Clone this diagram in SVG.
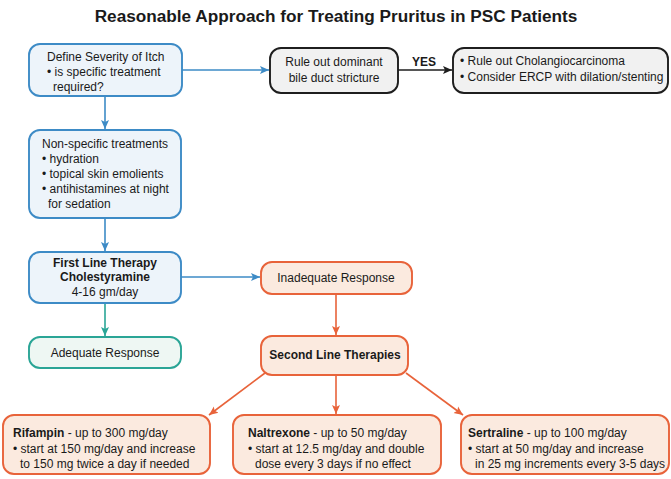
<svg xmlns="http://www.w3.org/2000/svg" width="671" height="479" viewBox="0 0 671 479">
<defs>
<style>
text{font-family:"Liberation Sans",Arial,sans-serif;font-size:12px;fill:#1a1a1a}
.title{font-size:17.2px;font-weight:bold;text-anchor:middle}
.b{font-weight:bold}
.c{text-anchor:middle}
.blue{fill:#edf4fa;stroke:#3d8bc6;stroke-width:1.9}
.grey{fill:#f1f1f1;stroke:#1e1e1e;stroke-width:1.9}
.teal{fill:#eef7f3;stroke:#2aa596;stroke-width:1.9}
.orng{fill:#fbeadf;stroke:#e8633a;stroke-width:1.9}
.lb{stroke:#3d8bc6;stroke-width:1.6;fill:none}
.lk{stroke:#1e1e1e;stroke-width:1.6;fill:none}
.lt{stroke:#2aa596;stroke-width:1.6;fill:none}
.lo{stroke:#e8633a;stroke-width:1.6;fill:none}
</style>
<marker id="ab" markerWidth="10" markerHeight="10" refX="9" refY="5" orient="auto" markerUnits="userSpaceOnUse"><path d="M0,1 L9,5 L0,9 L2,5 Z" fill="#3d8bc6"/></marker>
<marker id="ak" markerWidth="10" markerHeight="10" refX="9" refY="5" orient="auto" markerUnits="userSpaceOnUse"><path d="M0,1 L9,5 L0,9 L2,5 Z" fill="#1e1e1e"/></marker>
<marker id="at" markerWidth="10" markerHeight="10" refX="9" refY="5" orient="auto" markerUnits="userSpaceOnUse"><path d="M0,1 L9,5 L0,9 L2,5 Z" fill="#2aa596"/></marker>
<marker id="ao" markerWidth="10" markerHeight="10" refX="9" refY="5" orient="auto" markerUnits="userSpaceOnUse"><path d="M0,1 L9,5 L0,9 L2,5 Z" fill="#e8633a"/></marker>
</defs>
<rect width="671" height="479" fill="#ffffff"/>
<text class="title" x="336" y="22">Reasonable Approach for Treating Pruritus in PSC Patients</text>

<g id="connectors">
<path class="lb" d="M182,70 H269" marker-end="url(#ab)"/>
<path class="lk" d="M398,70 H452" marker-end="url(#ak)"/>
<text class="b c" x="424" y="66">YES</text>
<path class="lb" d="M105,96 V129" marker-end="url(#ab)"/>
<path class="lb" d="M105,218 V251" marker-end="url(#ab)"/>
<path class="lb" d="M181,277 H260" marker-end="url(#ab)"/>
<path class="lt" d="M105,303 V336" marker-end="url(#at)"/>
<path class="lo" d="M336,294 V335" marker-end="url(#ao)"/>
<path class="lo" d="M265,373 L209,415" marker-end="url(#ao)"/>
<path class="lo" d="M336,375 V414" marker-end="url(#ao)"/>
<path class="lo" d="M406,373 L463,415" marker-end="url(#ao)"/>
</g>

<g id="severity">
<rect class="blue" x="29" y="44" width="153" height="52" rx="11"/>
<text x="47" y="61">Define Severity of Itch</text>
<text x="47" y="76">• is specific treatment</text>
<text x="53" y="91">required?</text>
</g>

<g id="ruleout">
<rect class="grey" x="270" y="48" width="128" height="45" rx="11"/>
<text class="c" x="334" y="66">Rule out dominant</text>
<text class="c" x="334" y="82">bile duct stricture</text>
</g>

<g id="cholangio">
<rect class="grey" x="453" y="48" width="215" height="45" rx="11"/>
<text x="460" y="65">• Rule out Cholangiocarcinoma</text>
<text x="460" y="81">• Consider ERCP with dilation/stenting</text>
</g>

<g id="nonspecific">
<rect class="blue" x="29" y="130" width="152" height="88" rx="11"/>
<text x="42" y="148">Non-specific treatments</text>
<text x="42" y="163">• hydration</text>
<text x="42" y="178">• topical skin emolients</text>
<text x="42" y="193">• antihistamines at night</text>
<text x="48" y="208">for sedation</text>
</g>

<g id="firstline">
<rect class="blue" x="29" y="252" width="152" height="51" rx="11"/>
<text class="b c" x="105" y="267">First Line Therapy</text>
<text class="b c" x="105" y="281">Cholestyramine</text>
<text class="c" x="105" y="296">4-16 gm/day</text>
</g>

<g id="adequate">
<rect class="teal" x="29" y="337" width="152" height="31" rx="11"/>
<text class="c" x="105" y="357">Adequate Response</text>
</g>

<g id="inadequate">
<rect class="orng" x="261" y="262" width="151" height="32" rx="11"/>
<text class="c" x="336" y="282">Inadequate Response</text>
</g>

<g id="secondline">
<rect class="orng" x="261" y="336" width="147" height="39" rx="11"/>
<text class="b c" x="335" y="359">Second Line Therapies</text>
</g>

<g id="rifampin">
<rect class="orng" x="3" y="415" width="207" height="59" rx="11"/>
<text x="13" y="437"><tspan class="b">Rifampin</tspan> - up to 300 mg/day</text>
<text x="13" y="453">• start at 150 mg/day and increase</text>
<text x="20" y="468">to 150 mg twice a day if needed</text>
</g>

<g id="naltrexone">
<rect class="orng" x="233" y="415" width="208" height="59" rx="11"/>
<text x="248" y="437"><tspan class="b">Naltrexone</tspan> - up to 50 mg/day</text>
<text x="248" y="453">• start at 12.5 mg/day and double</text>
<text x="255" y="468">dose every 3 days if no effect</text>
</g>

<g id="sertraline">
<rect class="orng" x="461" y="415" width="208" height="59" rx="11"/>
<text x="468" y="437"><tspan class="b">Sertraline</tspan> - up to 100 mg/day</text>
<text x="468" y="453">• start at 50 mg/day and increase</text>
<text x="475" y="468">in 25 mg increments every 3-5 days</text>
</g>
</svg>
